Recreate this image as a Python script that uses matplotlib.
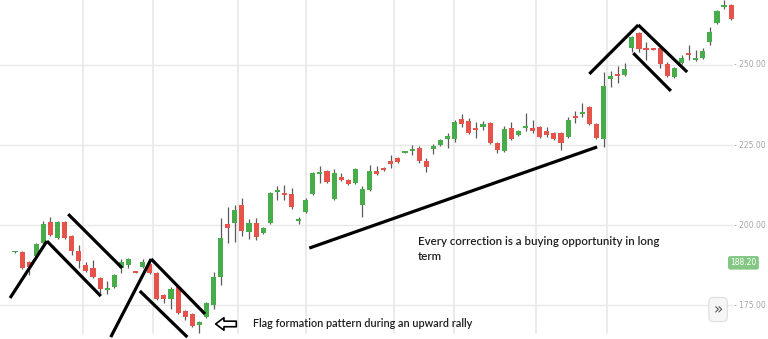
import numpy as np
import matplotlib.pyplot as plt

# Daily OHLC prices, one entry per session
opens = [191.5, 191.56, 188.44, 190.31, 194.38, 200.94, 195.94, 200.94, 196.56, 191.88,
         187.5, 186.56, 183.44, 179.69, 180.63, 186.56, 187.5, 185.5, 186.88, 187.81,
         185.0, 178.13, 176.88, 180.63, 173.13, 172.19, 168.75, 171.25, 175.0, 183.75,
         200.31, 200.63, 206.25, 197.81, 200.63, 197.5, 200.63, 210.31, 210.0, 209.69,
         201.25, 204.06, 209.69, 215.94, 216.88, 208.13, 215.0, 214.06, 213.13, 206.25,
         210.94, 216.88, 217.81, 220.0, 220.94, 222.6, 223.13, 224.06, 220.0, 223.75,
         225.0, 226.88, 226.88, 233.13, 232.5, 230.31, 230.63, 231.88, 225.63, 223.13,
         230.31, 228.13, 230.31, 230.31, 230.63, 229.38, 228.75, 228.75, 227.5, 234.06,
         234.69, 236.88, 231.56, 226.88, 245.63, 246.88, 246.88, 255.31, 260.0, 255.2,
         255.2, 255.31, 250.31, 246.25, 250.63, 253.75, 251.56, 252.19, 257.19, 263.13,
         268.13, 268.75]
closes = [191.8, 186.56, 186.88, 194.06, 200.31, 196.88, 200.94, 195.94, 191.88, 188.75,
          185.63, 183.75, 180.0, 180.31, 184.38, 188.44, 189.38, 185.1, 188.44, 184.99,
          176.88, 176.88, 180.0, 172.5, 171.25, 168.44, 169.69, 175.63, 183.75, 195.94,
          199.06, 204.69, 198.13, 200.63, 196.25, 199.06, 210.0, 210.63, 209.38, 205.63,
          201.88, 207.81, 216.25, 216.25, 213.44, 216.25, 214.06, 212.81, 217.5, 211.25,
          216.88, 215.94, 217.19, 219.06, 219.69, 222.9, 223.75, 220.0, 218.13, 224.69,
          226.56, 227.81, 232.19, 231.56, 228.75, 229.69, 231.56, 225.63, 223.44, 230.0,
          226.88, 229.38, 230.94, 229.38, 227.5, 228.13, 226.88, 225.63, 232.81, 233.44,
          235.31, 231.56, 227.19, 243.44, 246.56, 246.56, 248.75, 258.75, 255.0, 254.8,
          254.8, 250.31, 246.56, 249.06, 252.19, 253.13, 252.19, 254.38, 260.31, 266.88,
          268.75, 264.38]
highs = [191.9, 191.9, 188.8, 194.4, 201.25, 202.5, 201.2, 201.2, 196.9, 193.75,
         188.44, 189.06, 183.8, 182.5, 184.7, 189.38, 189.7, 185.6, 189.38, 188.1,
         185.3, 178.4, 180.63, 180.9, 173.4, 172.5, 170.0, 175.9, 185.31, 202.19,
         205.63, 206.25, 208.44, 201.88, 202.19, 199.3, 210.3, 212.19, 212.5, 211.56,
         202.5, 208.44, 216.56, 218.44, 217.2, 217.5, 216.25, 214.4, 217.8, 212.19,
         218.75, 218.44, 218.1, 221.88, 221.2, 223.0, 225.0, 224.69, 220.94, 225.31,
         226.9, 228.75, 232.81, 234.69, 233.44, 232.19, 232.5, 232.2, 225.9, 230.94,
         232.19, 229.7, 235.0, 232.81, 230.9, 230.63, 229.06, 229.0, 233.75, 235.63,
         238.13, 237.2, 231.9, 247.81, 248.13, 249.69, 250.63, 259.0, 260.3, 257.19,
         255.4, 255.6, 250.94, 249.3, 253.13, 256.25, 254.69, 255.31, 261.88, 267.2,
         270.3, 269.0]
lows = [191.4, 186.2, 184.38, 190.0, 194.0, 196.5, 195.6, 195.6, 190.63, 186.56,
        185.3, 183.4, 178.75, 178.44, 180.3, 184.99, 186.56, 185.0, 186.6, 184.7,
        176.6, 175.63, 173.75, 172.2, 170.3, 168.1, 166.25, 170.9, 173.75, 181.25,
        194.38, 194.69, 196.56, 195.63, 195.31, 197.2, 200.3, 207.81, 207.81, 205.0,
        200.31, 203.8, 209.4, 213.13, 213.1, 207.8, 213.8, 212.5, 212.8, 202.5,
        210.6, 215.6, 216.9, 217.81, 219.4, 222.5, 221.88, 219.38, 216.56, 222.19,
        224.7, 224.06, 225.94, 230.63, 228.4, 227.19, 229.69, 225.3, 222.5, 222.8,
        226.6, 227.8, 229.38, 228.75, 227.2, 227.5, 226.6, 223.44, 227.2, 231.88,
        233.75, 231.3, 226.9, 224.38, 243.13, 244.38, 246.6, 254.06, 254.06, 251.56,
        254.6, 249.06, 246.3, 246.0, 250.3, 251.56, 251.3, 251.9, 256.25, 262.8,
        267.5, 264.1]

price_levels = [175, 200, 225, 250]
last_price = 188.20
session_breaks = [9.6, 19.5, 31.5, 41.0, 53.5, 61.9, 73.5, 83.5]

# Hand-drawn pattern lines: (x0, y0, x1, y1) in session index / price
pattern_lines = [
    (-0.7, 177.2, 4.5, 195.0), (4.5, 195.0, 12.1, 177.8), (7.5, 203.4, 15.1, 186.6),
    (13.5, 165.0, 19.2, 189.4), (19.2, 189.4, 26.8, 172.2), (17.6, 179.4, 24.3, 165.0),
    (41.5, 192.8, 82.1, 224.4),
    (81.0, 247.2, 87.9, 262.5), (87.9, 262.5, 94.8, 247.8), (87.2, 253.7, 92.5, 241.9),
]

green = "#47ad4b"
red = "#e5534b"

fig = plt.figure(figsize=(7.68, 3.39), dpi=100)
ax = fig.add_axes([0, 0, 1, 1])
ax.set_xlim(-2.12, 106.2)
ax.set_ylim(164.4, 270.3)
ax.axis("off")

# grid
for lvl in price_levels:
    ax.axhline(lvl, xmin=0, xmax=0.953, color="#e8e8e8", lw=1.0, zorder=0)
    ax.text(0.956, lvl, "- %.2f" % lvl, transform=ax.get_yaxis_transform(),
            fontsize=5.5, color="#a5a5a5", va="center", ha="left")
for xb in session_breaks:
    ax.axvline(xb, ymin=0.018, ymax=1, color="#e8e8e8", lw=1.2, zorder=0)

# candles
o = np.array(opens)
c = np.array(closes)
idx = np.arange(len(o))
colors = np.where(c >= o, green, red)
ax.vlines(idx, lows, highs, color="#5a5a5a", lw=0.9, zorder=1)
body = np.maximum(np.abs(c - o), 0.5)
ax.bar(idx, body, bottom=np.minimum(o, c), width=0.72, color=colors, zorder=2)

for x0, y0, x1, y1 in pattern_lines:
    ax.plot([x0, x1], [y0, y1], color="black", lw=2.3, solid_capstyle="butt", zorder=3)

ax.annotate("", xy=(27.9, 169.1), xytext=(31.6, 169.1),
            arrowprops=dict(arrowstyle="simple,head_length=0.6,head_width=0.9,tail_width=0.4",
                            fc="white", ec="black", lw=1.2))

ax.text(33.6, 169.3, "Flag formation pattern during an upward rally",
        fontsize=7.8, family="Lato", fontweight="semibold", color="#1e1e1e", va="center")
ax.text(56.8, 196.6, "Every correction is a buying opportunity in long\nterm",
        fontsize=8.3, family="Lato", fontweight="semibold", color="#1e1e1e", va="top",
        linespacing=1.45)

# last price tag and scroll button
ax.text(0.968, last_price, "%.2f" % last_price, transform=ax.get_yaxis_transform(),
        fontsize=5.5, color="white", va="center", ha="center",
        bbox=dict(boxstyle="round,pad=0.3", fc="#84c784", ec="none"))
ax.text(0.935, 173.6, "\u00bb", transform=ax.get_yaxis_transform(), fontsize=11,
        color="#555555", va="center", ha="center",
        bbox=dict(boxstyle="round,pad=0.3", fc="#f6f6f6", ec="#dddddd", lw=0.8))

fig.savefig("out.png", dpi=100)
